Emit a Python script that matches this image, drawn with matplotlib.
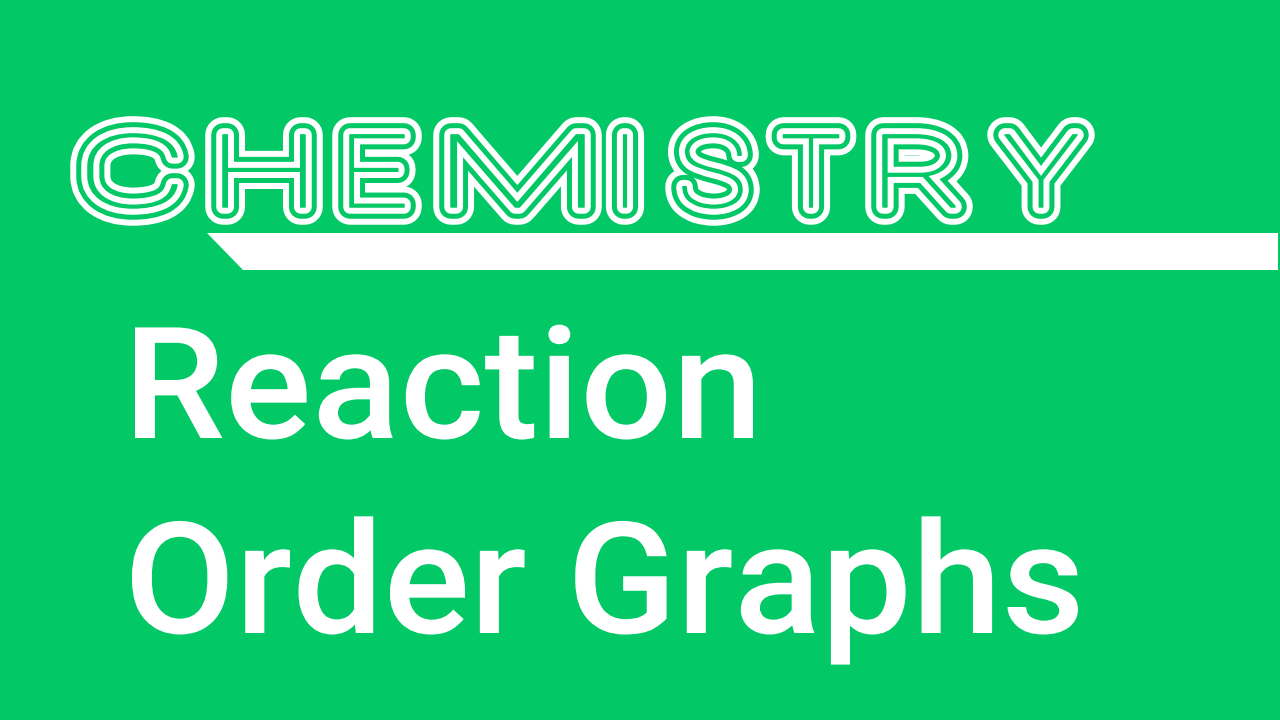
import matplotlib
matplotlib.use('Agg')
import numpy as np
import matplotlib.pyplot as plt
from matplotlib import patheffects
from matplotlib.font_manager import FontProperties
from matplotlib.patches import Polygon
from matplotlib.path import Path
from matplotlib.transforms import IdentityTransform

# colours and texts of the title card
green = '#02c866'
white = '#ffffff'
headline = 'CHEMISTRY'
title_lines = ['Reaction', 'Order Graphs']

# layout, in pixels
band_x = [207, 1278, 1278, 243]
band_y = [233, 233, 270, 270]
letter_left = [70, 205, 332, 433, 606, 665, 770, 865, 987]
letter_right = [195, 323, 422, 602, 644, 760, 852, 973, 1095]
title_left = [135, 132]
title_right = [753, 1078]
title_base = [438, 633]


def fit_glyphs(tpath, affine, lefts, rights, pad):
    # move/stretch every glyph of a text path so it fills its own box
    verts = affine.transform(tpath.vertices)
    codes = tpath.codes
    ok = codes != Path.CLOSEPOLY
    starts = list(np.where(codes == Path.MOVETO)[0])
    ends = starts[1:] + [len(codes)]
    subs = []
    for s, e in zip(starts, ends):
        xs = verts[s:e, 0][ok[s:e]]
        subs.append((xs.min(), xs.max(), s, e))
    subs.sort()
    groups = []
    for x0, x1, s, e in subs:
        if groups and x0 < groups[-1][1]:
            groups[-1][1] = max(groups[-1][1], x1)
            groups[-1][2].append((s, e))
        else:
            groups.append([x0, x1, [(s, e)]])
    new = verts.copy()
    if len(groups) != len(lefts):
        return Path(new, codes)
    for (x0, x1, parts), L, R in zip(groups, lefts, rights):
        a, b = L + pad, R - pad
        w = x1 - x0
        for s, e in parts:
            if w < 1 or b - a < w:
                new[s:e, 0] = verts[s:e, 0] - (x0 + x1) / 2 + (L + R) / 2
            else:
                new[s:e, 0] = a + (verts[s:e, 0] - x0) * (b - a) / w
    return Path(new, codes)


class GlyphStroke(patheffects.AbstractPathEffect):
    def __init__(self, lefts, rights, pad, lw, color, fill=False):
        super().__init__()
        self.lefts, self.rights, self.pad = lefts, rights, pad
        self.lw, self.color, self.fill = lw, color, fill

    def draw_path(self, renderer, gc, tpath, affine, rgbFace):
        path = fit_glyphs(tpath, affine, self.lefts, self.rights, self.pad)
        gc0 = renderer.new_gc()
        gc0.copy_properties(gc)
        gc0.set_linewidth(self.lw)
        gc0.set_foreground(self.color)
        gc0.set_joinstyle('round')
        face = matplotlib.colors.to_rgba(self.color) if self.fill else None
        renderer.draw_path(gc0, path, IdentityTransform(), face)
        gc0.restore()


class FitWidth(patheffects.AbstractPathEffect):
    # fills the whole text, stretched to a given left/right ink edge
    def __init__(self, left, right, color):
        super().__init__()
        self.left, self.right, self.color = left, right, color

    def draw_path(self, renderer, gc, tpath, affine, rgbFace):
        verts = affine.transform(tpath.vertices)
        ok = tpath.codes != Path.CLOSEPOLY
        x0, x1 = verts[ok, 0].min(), verts[ok, 0].max()
        new = verts.copy()
        new[:, 0] = self.left + (verts[:, 0] - x0) * (self.right - self.left) / (x1 - x0)
        gc0 = renderer.new_gc()
        gc0.copy_properties(gc)
        gc0.set_linewidth(0)
        renderer.draw_path(gc0, Path(new, tpath.codes), IdentityTransform(),
                           matplotlib.colors.to_rgba(self.color))
        gc0.restore()


fig = plt.figure(figsize=(12.8, 7.2), dpi=100)
fig.patch.set_facecolor(green)
ax = fig.add_axes([0, 0, 1, 1])
ax.set_xlim(0, 1280)
ax.set_ylim(720, 0)
ax.axis('off')

ax.add_patch(Polygon(list(zip(band_x, band_y)), closed=True, facecolor=white, edgecolor='none'))

# striped headline: concentric strokes round a thin glyph outline
thin = FontProperties(family='Roboto', weight=250, size=73)
px = 0.72  # points per pixel at 100 dpi
stripes = [(35.5, white), (23.5, green), (13.5, white), (1.5, green)]
effects = [GlyphStroke(letter_left, letter_right, 18, w * px, c) for w, c in stripes]
effects.append(GlyphStroke(letter_left, letter_right, 18, 0, green, fill=True))
ax.text(letter_left[0], 207, headline, fontproperties=thin,
        color=green, va='baseline', ha='left', path_effects=effects)

# main title
medium = FontProperties(family='Roboto', weight=500, size=112)
for line, L, R, base in zip(title_lines, title_left, title_right, title_base):
    ax.text(L, base, line, fontproperties=medium, color=white, va='baseline', ha='left',
            path_effects=[FitWidth(L, R, white)])

fig.savefig('out.png', dpi=100, facecolor=green)
